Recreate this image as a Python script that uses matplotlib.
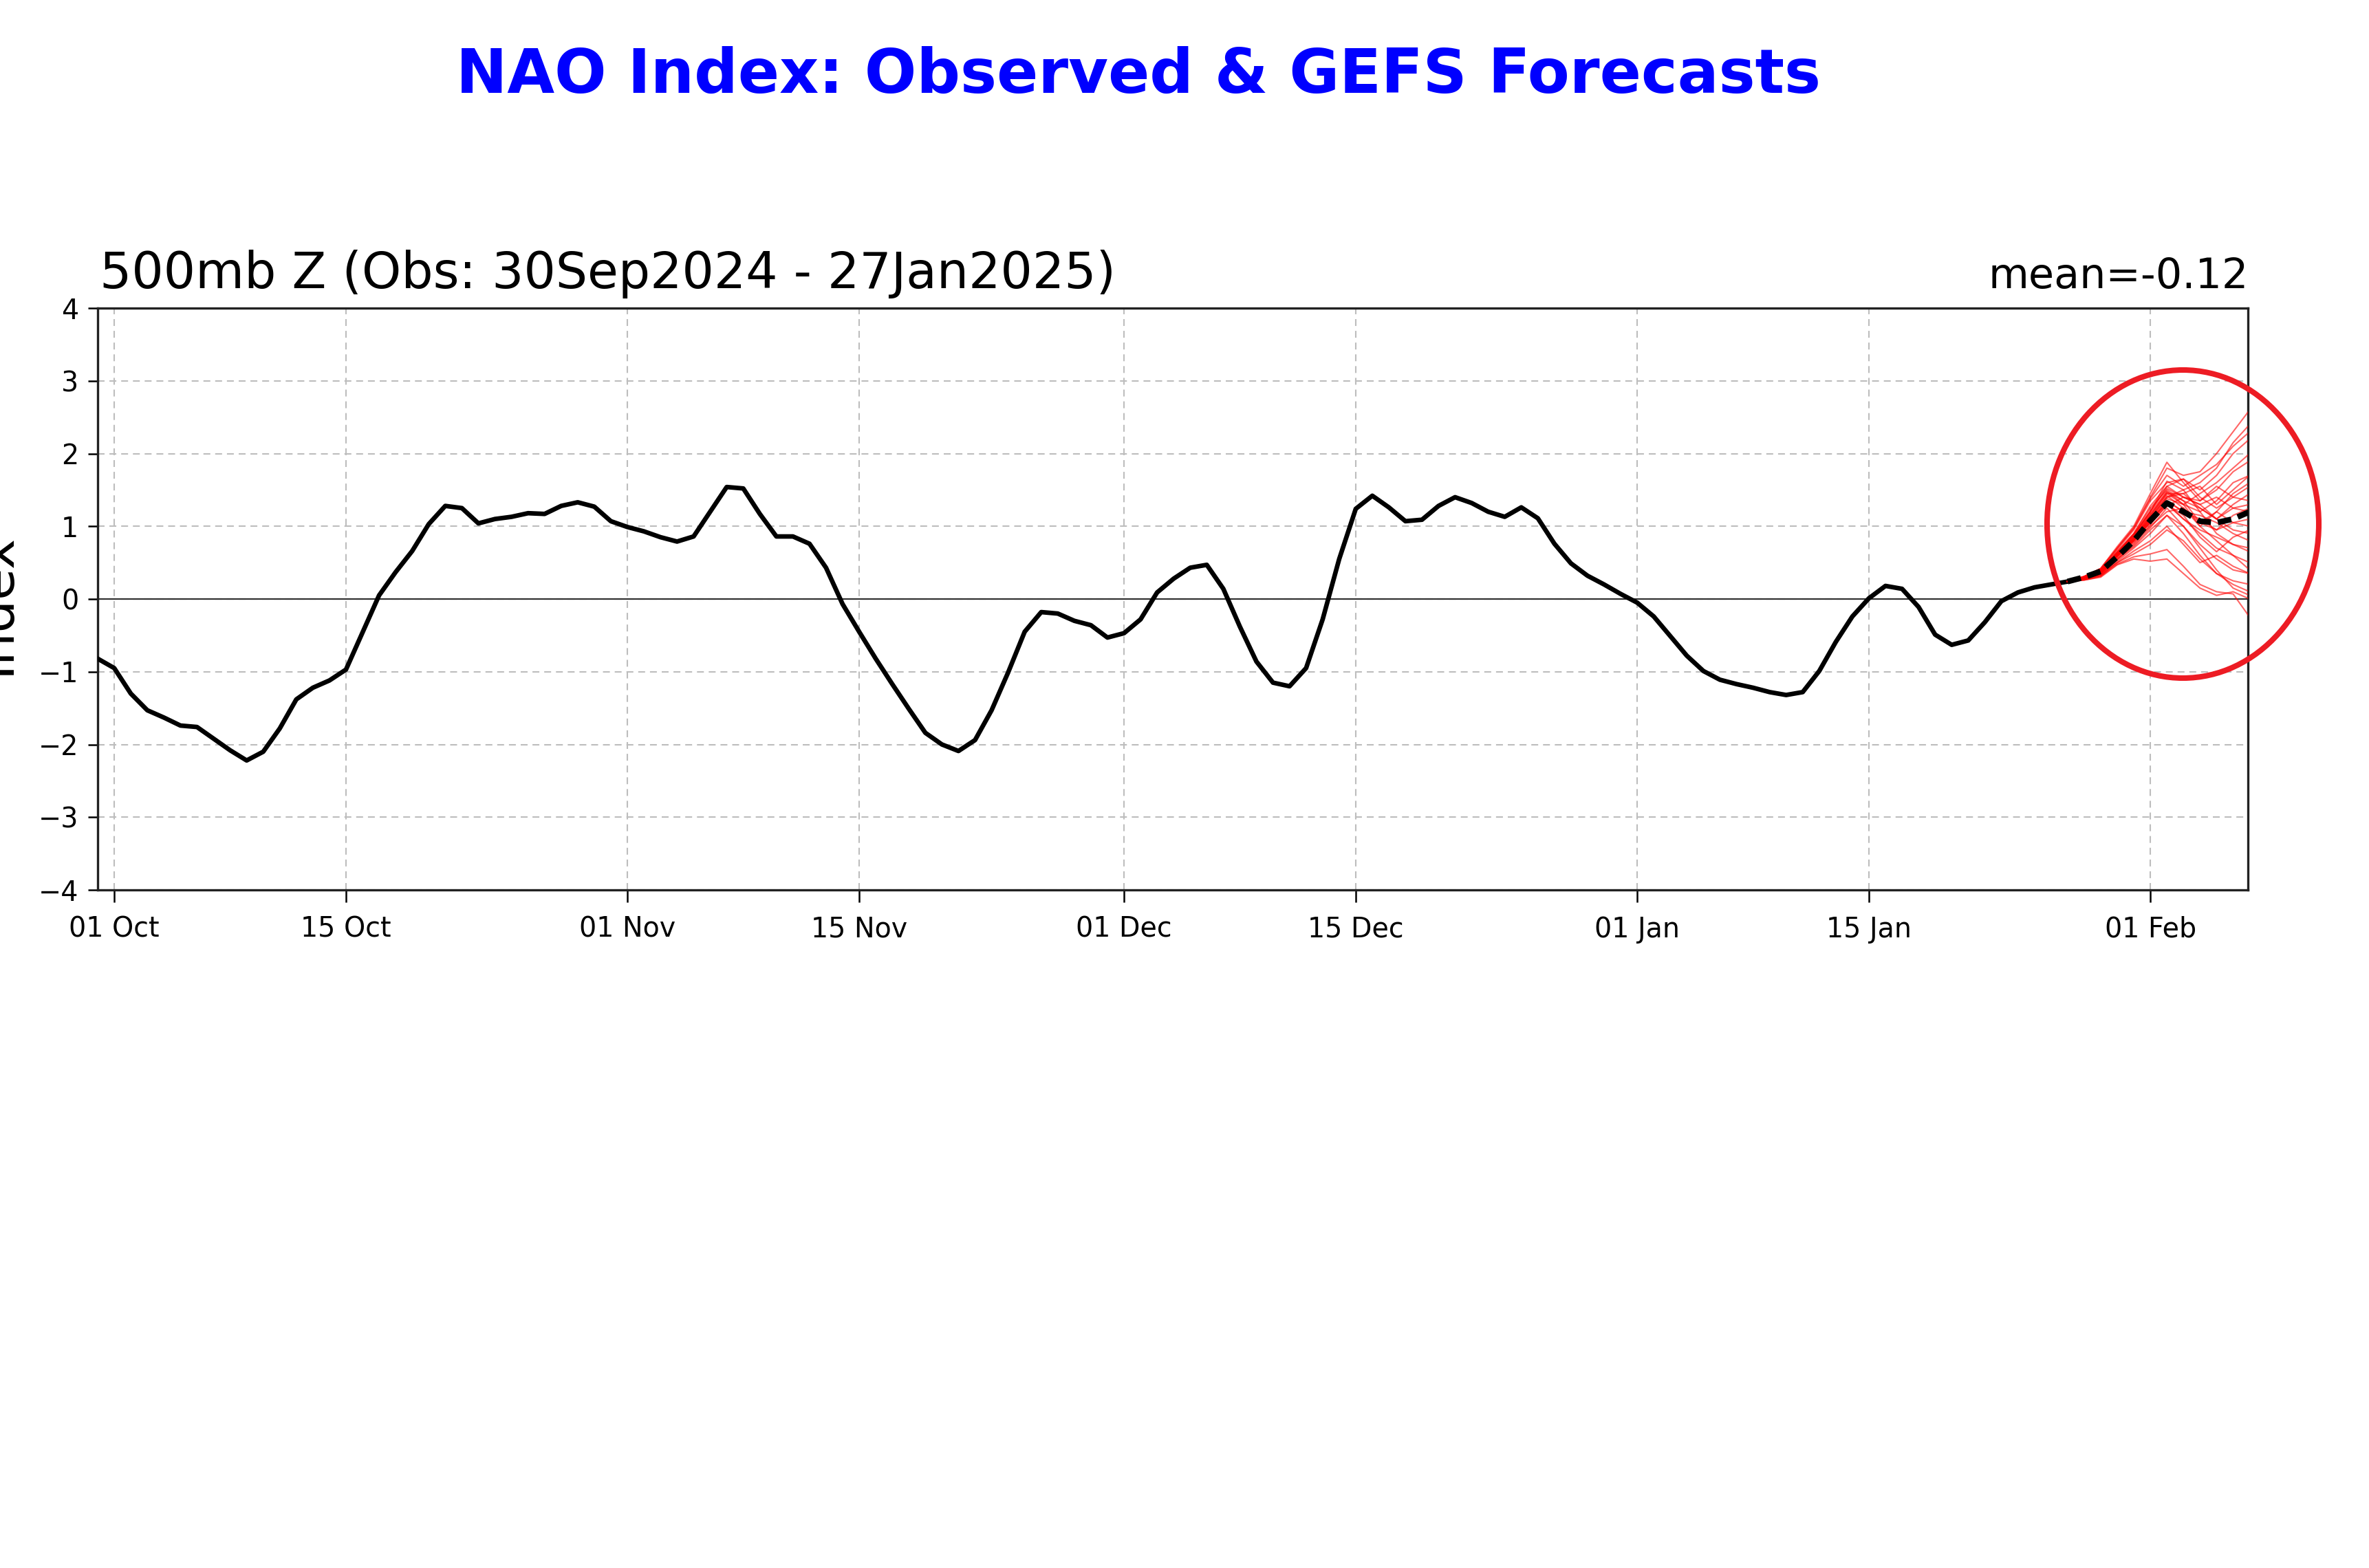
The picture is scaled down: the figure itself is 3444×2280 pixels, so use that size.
import datetime as dt

import matplotlib
matplotlib.use("Agg")
import matplotlib.pyplot as plt
import matplotlib.dates as mdates
from matplotlib.patches import Ellipse
from matplotlib.transforms import Bbox, TransformedBbox

plt.rcParams['font.family'] = ['DejaVu Sans']

# observed daily NAO index, 30 Sep 2024 .. 27 Jan 2025
obs_start = dt.datetime(2024, 9, 30)
obs_nao = [
    -0.82, -0.95, -1.30, -1.53, -1.63, -1.74, -1.76, -1.92, -2.08, -2.22,
    -2.10, -1.78, -1.38, -1.22, -1.12, -0.97, -0.46, 0.05, 0.37, 0.66,
    1.03, 1.28, 1.25, 1.04, 1.10, 1.13, 1.18, 1.17, 1.28, 1.33,
    1.27, 1.07, 0.99, 0.93, 0.85, 0.79, 0.86, 1.20, 1.54, 1.52,
    1.17, 0.86, 0.86, 0.76, 0.43, -0.07, -0.45, -0.82, -1.17, -1.51,
    -1.84, -2.00, -2.09, -1.94, -1.53, -1.01, -0.45, -0.18, -0.20, -0.30,
    -0.36, -0.53, -0.47, -0.28, 0.09, 0.28, 0.43, 0.47, 0.14, -0.38,
    -0.86, -1.15, -1.20, -0.95, -0.28, 0.55, 1.24, 1.42, 1.26, 1.07,
    1.09, 1.28, 1.40, 1.32, 1.20, 1.13, 1.26, 1.11, 0.76, 0.49,
    0.32, 0.20, 0.07, -0.05, -0.24, -0.51, -0.78, -0.99, -1.11, -1.17,
    -1.22, -1.28, -1.32, -1.28, -0.99, -0.59, -0.24, 0.01, 0.18, 0.14,
    -0.11, -0.49, -0.63, -0.57, -0.32, -0.03, 0.09, 0.16, 0.20, 0.24,
]

# GEFS forecast, daily from 27 Jan 2025
fc_start = dt.datetime(2025, 1, 27)
fc_mean = [0.24, 0.30, 0.38, 0.58, 0.80, 1.08, 1.32, 1.20, 1.07, 1.05, 1.10, 1.20]
fc_members = [
    [0.24, 0.29, 0.38, 0.62, 0.85, 1.15, 1.45, 1.30, 1.20, 1.35, 1.60, 1.70],
    [0.24, 0.27, 0.32, 0.52, 0.70, 0.90, 1.15, 1.00, 0.75, 0.55, 0.40, 0.35],
    [0.24, 0.30, 0.40, 0.68, 0.95, 1.35, 1.60, 1.65, 1.50, 1.70, 2.00, 2.20],
    [0.24, 0.28, 0.35, 0.55, 0.76, 1.02, 1.30, 1.10, 0.90, 0.70, 0.60, 0.50],
    [0.24, 0.29, 0.37, 0.60, 0.82, 1.10, 1.40, 1.45, 1.25, 1.10, 1.25, 1.30],
    [0.24, 0.31, 0.42, 0.72, 1.00, 1.45, 1.88, 1.60, 1.35, 1.50, 1.75, 1.90],
    [0.24, 0.26, 0.30, 0.47, 0.55, 0.52, 0.55, 0.35, 0.15, 0.05, 0.10, 0.00],
    [0.24, 0.27, 0.33, 0.50, 0.62, 0.75, 0.95, 0.80, 0.55, 0.35, 0.25, 0.20],
    [0.24, 0.30, 0.39, 0.64, 0.90, 1.25, 1.50, 1.35, 1.05, 0.95, 1.05, 1.10],
    [0.24, 0.29, 0.38, 0.61, 0.83, 1.12, 1.42, 1.25, 1.00, 1.20, 1.45, 1.60],
    [0.24, 0.31, 0.41, 0.70, 0.98, 1.40, 1.80, 1.70, 1.75, 2.00, 2.30, 2.60],
    [0.24, 0.26, 0.31, 0.48, 0.58, 0.62, 0.68, 0.45, 0.20, 0.10, 0.07, -0.25],
    [0.24, 0.28, 0.36, 0.58, 0.80, 1.05, 1.35, 1.20, 1.15, 1.05, 0.90, 0.80],
    [0.24, 0.29, 0.37, 0.59, 0.80, 1.08, 1.38, 1.30, 1.45, 1.60, 1.80, 2.00],
    [0.24, 0.30, 0.39, 0.66, 0.90, 1.28, 1.55, 1.65, 1.40, 1.25, 1.40, 1.55],
    [0.24, 0.30, 0.40, 0.63, 0.88, 1.20, 1.62, 1.50, 1.20, 0.90, 0.75, 0.70],
    [0.24, 0.29, 0.37, 0.61, 0.84, 1.10, 1.30, 1.15, 0.85, 0.65, 0.85, 0.95],
    [0.24, 0.27, 0.34, 0.54, 0.74, 0.98, 1.25, 1.00, 0.70, 0.40, 0.15, 0.05],
    [0.24, 0.31, 0.42, 0.70, 0.97, 1.38, 1.70, 1.55, 1.70, 1.85, 2.10, 2.30],
    [0.24, 0.29, 0.37, 0.60, 0.82, 1.08, 1.35, 1.20, 1.10, 0.95, 1.15, 1.25],
    [0.24, 0.28, 0.36, 0.59, 0.80, 1.05, 1.28, 1.40, 1.30, 1.40, 1.25, 1.20],
    [0.24, 0.30, 0.40, 0.64, 0.88, 1.20, 1.55, 1.40, 1.30, 1.10, 0.95, 0.90],
    [0.24, 0.27, 0.32, 0.50, 0.66, 0.80, 1.00, 0.75, 0.50, 0.60, 0.45, 0.35],
    [0.24, 0.29, 0.38, 0.62, 0.85, 1.14, 1.45, 1.45, 1.55, 1.30, 1.50, 1.70],
    [0.24, 0.30, 0.39, 0.63, 0.88, 1.18, 1.48, 1.30, 1.00, 0.80, 0.60, 0.40],
    [0.24, 0.29, 0.38, 0.61, 0.83, 1.12, 1.40, 1.50, 1.60, 1.80, 2.15, 2.40],
    [0.24, 0.28, 0.35, 0.57, 0.78, 1.00, 1.20, 1.25, 1.05, 1.20, 1.05, 1.00],
    [0.24, 0.29, 0.38, 0.62, 0.86, 1.16, 1.47, 1.35, 1.25, 1.10, 1.30, 1.45],
    [0.24, 0.28, 0.36, 0.60, 0.81, 1.06, 1.32, 1.10, 0.95, 0.85, 0.75, 0.65],
    [0.24, 0.30, 0.40, 0.64, 0.89, 1.21, 1.52, 1.40, 1.35, 1.55, 1.40, 1.35],
    [0.24, 0.28, 0.34, 0.55, 0.72, 0.95, 1.15, 0.90, 0.60, 0.35, 0.20, 0.10],
]

yticks = [-4, -3, -2, -1, 0, 1, 2, 3, 4]

obs_dates = [obs_start + dt.timedelta(days=i) for i in range(len(obs_nao))]
fc_dates = [fc_start + dt.timedelta(days=i) for i in range(len(fc_mean))]

W, H = 3444, 2280
fig = plt.figure(figsize=(W / 100, H / 100), dpi=100)
fig.patch.set_facecolor('white')

# axes placed in pixel terms of the reference (cropped on the right)
ax_l, ax_r, ax_t, ax_b = 142, 3268, 448, 1294
ax = fig.add_axes([ax_l / W, 1 - ax_b / H, (ax_r - ax_l) / W, (ax_b - ax_t) / H])

ax.plot(obs_dates, obs_nao, color='black', lw=4.8, zorder=3, solid_capstyle='round')
for m in fc_members:
    ax.plot(fc_dates, m, color='red', lw=1.5, alpha=0.6, zorder=4)
ax.plot(fc_dates, fc_mean, color='black', lw=6.0, linestyle=(0, (2.4, 1.2)), zorder=5)

ax.axhline(0, color='#333333', lw=1.6, zorder=2)

ax.set_xlim(dt.datetime(2024, 9, 30), dt.datetime(2025, 2, 6, 21, 30))
ax.set_ylim(-4, 4)
ax.set_yticks(yticks)
ax.xaxis.set_major_locator(mdates.DayLocator(bymonthday=[1, 15]))
ax.xaxis.set_major_formatter(mdates.DateFormatter('%d %b'))

ax.set_axisbelow(True)
ax.grid(True, color='#bdbdbd', lw=1.5, linestyle=(0, (4.8, 3.4)))

for s in ax.spines.values():
    s.set_linewidth(2.4)
    s.set_color('#222222')
ax.tick_params(axis='x', labelsize=28.5, length=13, width=1.8, pad=14)
ax.tick_params(axis='y', labelsize=28.5, length=10, width=1.8, pad=10)

# texts
fig.text(1655 / W, 1 - 135 / H, 'NAO Index: Observed & GEFS Forecasts',
         color='#0000FF', fontsize=64, fontweight='bold', ha='center', va='baseline')
fig.text(145 / W, 1 - 419 / H, '500mb Z (Obs: 30Sep2024 - 27Jan2025)',
         fontsize=52.5, ha='left', va='baseline')
mean_txt = fig.text(2890 / W, 1 - 419 / H, 'mean=-0.126',
                    fontsize=43.5, ha='left', va='baseline')
mean_txt.set_clip_box(TransformedBbox(Bbox([[0, 0], [ax_r / W, 1]]), fig.transFigure))
mean_txt.set_clip_on(True)

fig.text(14 / W, 1 - 878 / H, 'Index', fontsize=54,
         rotation=90, rotation_mode='anchor', ha='center', va='baseline')

# red highlight ring around the forecast
ring = Ellipse((3173.5 / W, 1 - 762 / H), 395 / W, 448 / H, transform=fig.transFigure,
               fill=False, edgecolor='#ED1C24', linewidth=5.8, zorder=10)
fig.add_artist(ring)

fig.savefig('out.png', dpi=100)
plt.close(fig)
